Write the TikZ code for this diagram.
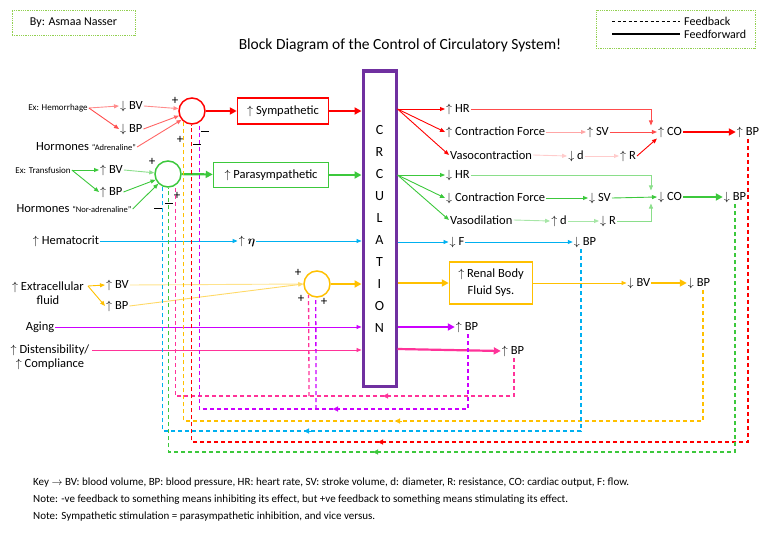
\documentclass[tikz,border=0pt]{standalone}
\usepackage{amsmath}
\usepackage{fontspec}
\setmainfont{Carlito}
\usetikzlibrary{arrows.meta}
\newcommand{\UA}{\ensuremath{\uparrow}}
\newcommand{\DA}{\ensuremath{\downarrow}}
\newcommand{\MN}{\rule[0.5ex]{8pt}{0.8pt}}
\definecolor{cred}{RGB}{255,0,0}
\definecolor{cgreen}{RGB}{60,200,60}
\definecolor{cblue}{RGB}{0,176,240}
\definecolor{corange}{RGB}{255,192,0}
\definecolor{cmag}{RGB}{204,0,255}
\definecolor{cpink}{RGB}{255,51,153}
\definecolor{cpurple}{RGB}{112,48,160}
\definecolor{cframe}{RGB}{146,208,80}
\begin{document}
\begin{tikzpicture}[x=1pt,y=-1pt,
  lb/.style={inner sep=1pt,font=\fontsize{12.5}{14}\selectfont},
  sm/.style={inner sep=1pt,font=\fontsize{9}{10}\selectfont},
  sum/.style={circle,draw,line width=1.5pt,minimum size=26pt,inner sep=0pt},
  box/.style={draw,line width=1.5pt,inner sep=2pt,font=\fontsize{12.5}{14}\selectfont,align=center},
  th/.style={line width=0.9pt,-{Triangle[length=5pt,width=4pt]}},
  tk/.style={line width=2.2pt,-{Triangle[length=7pt,width=7pt]}},
  fb/.style={line width=1.3pt,dash pattern=on 4pt off 3pt},
  fbh/.style={-{Triangle[length=5pt,width=5pt]},line width=0.1pt},
  pl/.style={inner sep=0pt,font=\fontsize{13}{14}\selectfont}]
\useasboundingbox (0,0) rectangle (768,543);

% header
\node[draw=cframe,densely dotted,line width=0.8pt,minimum width=123pt,minimum height=25pt,font=\fontsize{12}{13}\selectfont] (auth) at (73.5,22.5) {By: Asmaa Nasser};
\node[font=\fontsize{15.5}{17}\selectfont] (title) at (400,45) {Block Diagram of the Control of Circulatory System!};
\node[draw=cframe,densely dotted,line width=0.8pt,minimum width=159pt,minimum height=38pt] (leg) at (675.5,29) {};
\coordinate (la) at (612,21); \coordinate (lb) at (680,21);
\coordinate (lc) at (612,34); \coordinate (ld) at (680,34);
\draw[line width=0.7pt,dash pattern=on 3pt off 2.5pt] (la) -- (lb);
\draw[line width=1.8pt] (lc) -- (ld);
\node[lb,anchor=west,font=\fontsize{12}{13}\selectfont] (lfb) at (683,21) {Feedback};
\node[lb,anchor=west,font=\fontsize{12}{13}\selectfont] (lff) at (683,34) {Feedforward};

% circulation
\node[draw=cpurple,line width=3pt,minimum width=33pt,minimum height=315pt,inner sep=0pt] (circ) at (379.5,228.5) {};
\foreach \l [count=\i] in {C,R,C,U,L,A,T,I,O,N}
  \node[font=\fontsize{14}{15}\selectfont] (c\i) at (379.5,108+22*\i) {\l};

% sympathetic branch
\node[sm] (hem) at (58,108) {Ex: Hemorrhage};
\node[lb,anchor=west] (bv1) at (119,106) {\DA\ BV};
\node[lb,anchor=west] (bp1) at (119,129) {\DA\ BP};
\node[lb] (hor1) at (86,147) {Hormones {\fontsize{8.5}{9}\selectfont ``Adrenaline''}};
\node[sum,draw=cred] (symp) at (192,111) {};
\node[box,draw=cred,minimum width=91pt,minimum height=26pt] (sym) at (283,111) {\UA\ Sympathetic};
\draw[th,red!45] (hem.east) -- (bv1.west);
\draw[th,red!70] (hem.east) -- (bp1.west);
\draw[th,red!45] (bv1.east) -- (symp.170);
\draw[th,red!60] (bp1.east) -- (symp.200);
\draw[th,red!60] (hor1.east) -- (symp.220);
\draw[tk,cred] (symp) -- (sym);
\draw[tk,cred] (sym) -- (circ.west |- sym);
\node[pl] (s1) at (175,101) {+};
\node[pl] (s2) at (180,140) {+};
\node[pl] (s3) at (205,133) {\MN};
\node[pl] (s4) at (197,146) {\MN};

% parasympathetic branch
\node[sm] (tra) at (43,170) {Ex: Transfusion};
\node[lb,anchor=west] (bv2) at (99,170) {\UA\ BV};
\node[lb,anchor=west] (bp2) at (99,192) {\UA\ BP};
\node[lb] (hor2) at (74,209) {Hormones {\fontsize{8.5}{9}\selectfont ``Nor-adrenaline''}};
\node[sum,draw=cgreen] (para) at (168,174) {};
\node[box,draw=cgreen,minimum width=115pt,minimum height=25pt] (par) at (271,175) {\UA\ Parasympathetic};
\draw[th,cgreen] (tra.east) -- (bv2.west);
\draw[th,cgreen] (tra.east) -- (bp2.west);
\draw[th,cgreen!60] (bv2.east) -- (para.175);
\draw[th,cgreen] (bp2.east) -- (para.205);
\draw[th,cgreen] (hor2.east) -- (para.225);
\draw[tk,cgreen] (para) -- (par);
\draw[tk,cgreen] (par) -- (circ.west |- par);
\node[pl] (p1) at (152,162) {+};
\node[pl] (p2) at (177,196) {+};
\node[pl] (p3) at (169,205) {\MN};
\node[pl] (p4) at (158,210) {\MN};

% hematocrit
\node[lb] (hct) at (66,241) {\UA\ Hematocrit};
\node[lb] (eta) at (247,241) {\UA\ \ensuremath{\boldsymbol{\eta}}};
\draw[th,cblue] (hct.east) -- (eta.west);
\draw[th,cblue] (eta.east) -- (circ.west |- eta);

% extracellular fluid
\node[lb,align=center] (ecf) at (48,293) {\UA\ Extracellular\\fluid};
\node[lb,anchor=west] (bv3) at (105,285) {\UA\ BV};
\node[lb,anchor=west] (bp3) at (105,306) {\UA\ BP};
\node[sum,draw=corange] (orc) at (317,284) {};
\coordinate (ecfo) at (88,286);
\draw[th,corange] (ecfo) -- (bv3.west);
\draw[th,corange] (ecfo) -- (bp3.west);
\draw[th,corange!45] (bv3.east) -- (orc.west);
\draw[th,corange!60] (bp3.east) -- (orc.west);
\draw[tk,corange] (orc) -- (circ.west |- orc);
\node[pl] (o1) at (298,273) {+};
\node[pl] (o2) at (301,299) {+};
\node[pl] (o3) at (324,302) {+};

% aging and distensibility
\node[lb] (age) at (40,327) {Aging};
\node[lb,align=center] (dis) at (50,357) {\UA\ Distensibility/\\\UA\ Compliance};
\draw[th,cmag] (age.east) -- (circ.west |- age);
\coordinate (disl) at (92,350);
\draw[th,cpink] (disl) -- (circ.west |- disl);

% right side: sympathetic effects
\coordinate (fanr) at (circ.east |- 0,109);
\node[lb,anchor=west] (hr1) at (445,109) {\UA\ HR};
\node[lb,anchor=west] (cf1) at (445,132) {\UA\ Contraction Force};
\node[lb,anchor=west] (vc1) at (449,155) {Vasocontraction};
\node[lb] (sv1) at (598,132) {\UA\ SV};
\node[lb] (d1) at (576,156) {\DA\ d};
\node[lb] (r1) at (628,156) {\UA\ R};
\node[lb] (co1) at (670,132) {\UA\ CO};
\node[lb] (bo1) at (748,132) {\UA\ BP};
\draw[th,cred] (fanr) -- (hr1.west);
\draw[th,cred] (fanr) -- (cf1.west);
\draw[th,cred] (fanr) -- (vc1.west);
\draw[th,red!70] (hr1.east) -| ([xshift=-6pt]co1.north west);
\draw[th,red!35] (cf1.east) -- (sv1.west);
\draw[th,red!70] (sv1.east) -- (co1.west);
\draw[th,red!20] (vc1.east) -- (d1.west);
\draw[th,red!20] (d1.east) -- (r1.west);
\draw[th,cred] (r1.east) -- (co1.south west);
\draw[tk,cred] (co1.east) -- (bo1.west);

% right side: parasympathetic effects
\coordinate (fang) at (circ.east |- 0,175);
\node[lb,anchor=west] (hr2) at (445,175) {\DA\ HR};
\node[lb,anchor=west] (cf2) at (445,198) {\DA\ Contraction Force};
\node[lb,anchor=west] (vd2) at (449,220) {Vasodilation};
\node[lb] (sv2) at (600,198) {\DA\ SV};
\node[lb] (d2) at (559,221) {\UA\ d};
\node[lb] (r2) at (608,221) {\DA\ R};
\node[lb] (co2) at (670,197) {\DA\ CO};
\node[lb] (bo2) at (735,197) {\DA\ BP};
\draw[th,cgreen] (fang) -- (hr2.west);
\draw[th,cgreen] (fang) -- (cf2.west);
\draw[th,cgreen] (fang) -- (vd2.west);
\draw[th,cgreen!60] (hr2.east) -| ([xshift=-6pt]co2.north west);
\draw[th,cgreen] (cf2.east) -- (sv2.west);
\draw[th,cgreen] (sv2.east) -- (co2.west);
\draw[th,cgreen!45] (vd2.east) -- (d2.west);
\draw[th,cgreen!45] (d2.east) -- (r2.west);
\draw[th,cgreen!60] (r2.east) -| ([xshift=-6pt]co2.south west);
\draw[tk,cgreen] (co2.east) -- (bo2.west);

% right side: flow
\node[lb] (fl) at (457,242) {\DA\ F};
\node[lb] (bob) at (585,242) {\DA\ BP};
\draw[th,cblue] (circ.east |- fl) -- (fl.west);
\draw[th,cblue] (fl.east) -- (bob.west);

% renal
\node[box,draw=corange,minimum width=83pt,minimum height=42pt] (ren) at (491,283) {\UA\ Renal Body\\[3pt]Fluid Sys.};
\node[lb] (bvr) at (639,283) {\DA\ BV};
\node[lb] (bor) at (699,283) {\DA\ BP};
\draw[tk,corange] (circ.east |- ren) -- (ren.west);
\draw[th,corange] (ren.east) -- (bvr.west);
\draw[tk,corange] (bvr.east) -- (bor.west);

% aging / distensibility outputs
\node[lb] (boa) at (467,327) {\UA\ BP};
\node[lb] (bod) at (513,351) {\UA\ BP};
\draw[tk,cmag] (circ.east |- boa) -- (boa.west);
\coordinate (dout) at (circ.east |- 0,349);
\draw[tk,cpink] (dout) -- (bod.west);

% feedback loops
\draw[fb,cpink] (514,358) -- (514,396) -| (para.303);
\draw[fb,cpink] (309,396) -- (309,380) -- (orc.232);
\draw[fb,cmag] (468,334) -- (468,409) -| (symp.303);
\draw[fb,cmag] (316,409) -- (orc.265);
\draw[fb,corange] (703,290) -- (703,421) -| (symp.232);
\draw[fb,cblue] (581,249) -- (581,431) -| (para.247);
\draw[fb,cred] (748,139) -- (748,442) -| (symp.268);
\draw[fb,cgreen] (735,204) -- (735,452) -| (para.273);
% direction marks
\draw[fbh,cpink] (390,396) -- (383,396);
\draw[fbh,cmag] (340,409) -- (333,409);
\draw[fbh,corange] (402,421) -- (395,421);
\draw[fbh,cblue] (311,431) -- (304,431);
\draw[fbh,cred] (385,442) -- (378,442);
\draw[fbh,cgreen] (380,452) -- (373,452);

% notes
\node[anchor=west,inner sep=0pt,font=\fontsize{11}{12}\selectfont] (n1) at (33,483) {Key \ensuremath{\rightarrow} BV: blood volume, BP: blood pressure, HR: heart rate, SV: stroke volume, d: diameter, R: resistance, CO: cardiac output, F: flow.};
\node[anchor=west,inner sep=0pt,font=\fontsize{11}{12}\selectfont] (n2) at (33,500) {Note: -ve feedback to something means inhibiting its effect, but +ve feedback to something means stimulating its effect.};
\node[anchor=west,inner sep=0pt,font=\fontsize{11}{12}\selectfont] (n3) at (33,517) {Note: Sympathetic stimulation = parasympathetic inhibition, and vice versus.};
\end{tikzpicture}
\end{document}
